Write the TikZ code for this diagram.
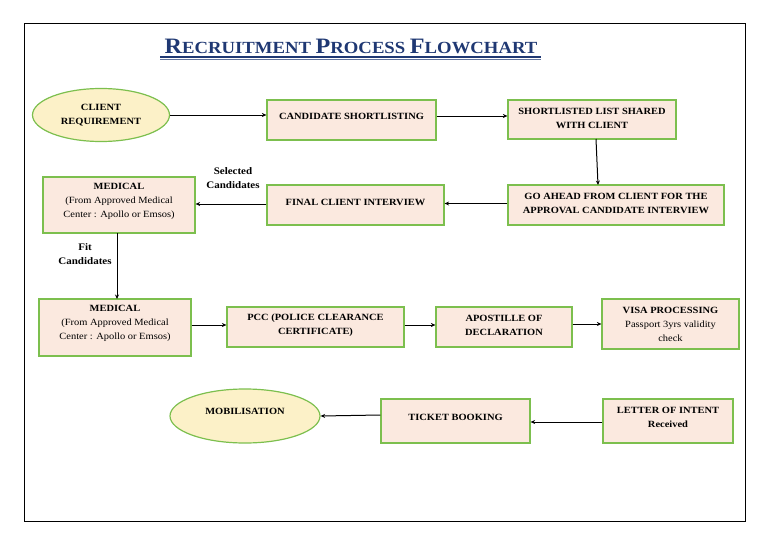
\documentclass[tikz,border=0pt]{standalone}
\usepackage{fontspec}
\setmainfont[FakeStretch=1.1]{Liberation Serif}
\usetikzlibrary{shapes.geometric,arrows.meta}
\definecolor{boxfill}{HTML}{FBE9DF}
\definecolor{ellfill}{HTML}{FCF1C8}
\definecolor{boxline}{HTML}{7CBF4E}
\definecolor{titleblue}{HTML}{1F3873}
\tikzset{
  stepbox/.style={draw=boxline, line width=1.2pt, fill=boxfill, align=center, inner sep=0pt,
    font=\bfseries\fontsize{9.5}{14}\selectfont},
  ellnode/.style={ellipse, draw=boxline, line width=1.2pt, fill=ellfill, align=center, inner sep=0pt,
    font=\bfseries\fontsize{9.5}{14}\selectfont},
  flow/.style={draw=black, line width=1pt, -{Stealth[length=4.5pt,width=4pt]}},
  lbl/.style={font=\bfseries\fontsize{10}{13.5}\selectfont, align=center, inner sep=0pt}
}
\newcommand{\bigc}[1]{{\fontsize{22}{22}\selectfont #1}}
\newcommand{\smc}[1]{{\fontsize{17}{17}\selectfont #1}}
\begin{document}
\begin{tikzpicture}[x=1pt,y=-1pt]
\useasboundingbox (0,0) rectangle (768,543);
\draw[line width=0.8pt] (24,23) rectangle (745,521);
% title
\node[text=titleblue, font=\bfseries, inner sep=0pt, anchor=base] (title) at (351,54)
  {\bigc{R}\smc{ECRUITMENT }\bigc{P}\smc{ROCESS }\bigc{F}\smc{LOWCHART}};
\draw[titleblue, line width=1.1pt] (160,57) -- (541,57);
\draw[titleblue!70, line width=0.6pt] (160,59.5) -- (541,59.5);
% nodes
\node[ellnode, minimum width=137pt, minimum height=53pt, text depth=2pt] (client) at (101,115) {CLIENT\\REQUIREMENT};
\node[stepbox, minimum width=169pt, minimum height=40pt, text depth=8pt] (cand) at (351.5,120) {CANDIDATE SHORTLISTING};
\node[stepbox, minimum width=168pt, minimum height=39pt, text depth=3pt] (short) at (592,119.5) {SHORTLISTED LIST SHARED\\WITH CLIENT};
\node[stepbox, minimum width=216pt, minimum height=40pt, text depth=4pt] (goahead) at (616,205) {GO AHEAD FROM CLIENT FOR THE\\APPROVAL CANDIDATE INTERVIEW};
\node[stepbox, minimum width=177pt, minimum height=40pt, text depth=6pt] (final) at (355.5,205) {FINAL CLIENT INTERVIEW};
\node[stepbox, minimum width=152pt, minimum height=56pt, text depth=10pt] (med1) at (119,205) {MEDICAL\\{\mdseries(From Approved Medical}\\{\mdseries Center : Apollo or Emsos)}};
\node[stepbox, minimum width=152pt, minimum height=57pt, text depth=9.5pt] (med2) at (115,327.5) {MEDICAL\\{\mdseries(From Approved Medical}\\{\mdseries Center : Apollo or Emsos)}};
\node[stepbox, minimum width=177pt, minimum height=40pt, text depth=6.3pt] (pcc) at (315.5,327) {PCC (POLICE CLEARANCE\\CERTIFICATE)};
\node[stepbox, minimum width=136pt, minimum height=40pt, text depth=4pt] (apos) at (504,327) {APOSTILLE OF\\DECLARATION};
\node[stepbox, minimum width=137pt, minimum height=50pt] (visa) at (670.5,324) {VISA PROCESSING\\{\mdseries Passport 3yrs validity}\\{\mdseries check}};
\node[stepbox, minimum width=130pt, minimum height=44pt, text depth=8pt] (loi) at (668,421) {LETTER OF INTENT\\Received};
\node[stepbox, minimum width=149pt, minimum height=44pt, text depth=8pt] (ticket) at (455.5,421) {TICKET BOOKING};
\node[ellnode, minimum width=150pt, minimum height=54pt, text depth=10pt] (mob) at (245,416) {MOBILISATION};
% connectors
\draw[flow] (client.east) -- (cand.west |- client.east);
\draw[flow] (cand.east |- 0,116) -- (short.west |- 0,116);
\draw[flow] (596,139) -- (598,185);
\draw[flow] (goahead.west |- 0,203.5) -- (final.east |- 0,203.5);
\draw[flow] (final.west |- 0,204) -- (med1.east |- 0,204);
\draw[flow] (117,233) -- (117,299);
\draw[flow] (med2.east |- 0,325) -- (pcc.west |- 0,325);
\draw[flow] (pcc.east |- 0,325) -- (apos.west |- 0,325);
\draw[flow] (apos.east |- 0,324) -- (visa.west |- 0,324);
\draw[flow] (loi.west |- 0,422) -- (ticket.east |- 0,422);
\draw[flow] (ticket.west |- 0,415) -- (mob.east);
% labels
\node[lbl] (sel) at (233,178) {Selected\\Candidates};
\node[lbl] (fit) at (85,254) {Fit\\Candidates};
\end{tikzpicture}
\end{document}
